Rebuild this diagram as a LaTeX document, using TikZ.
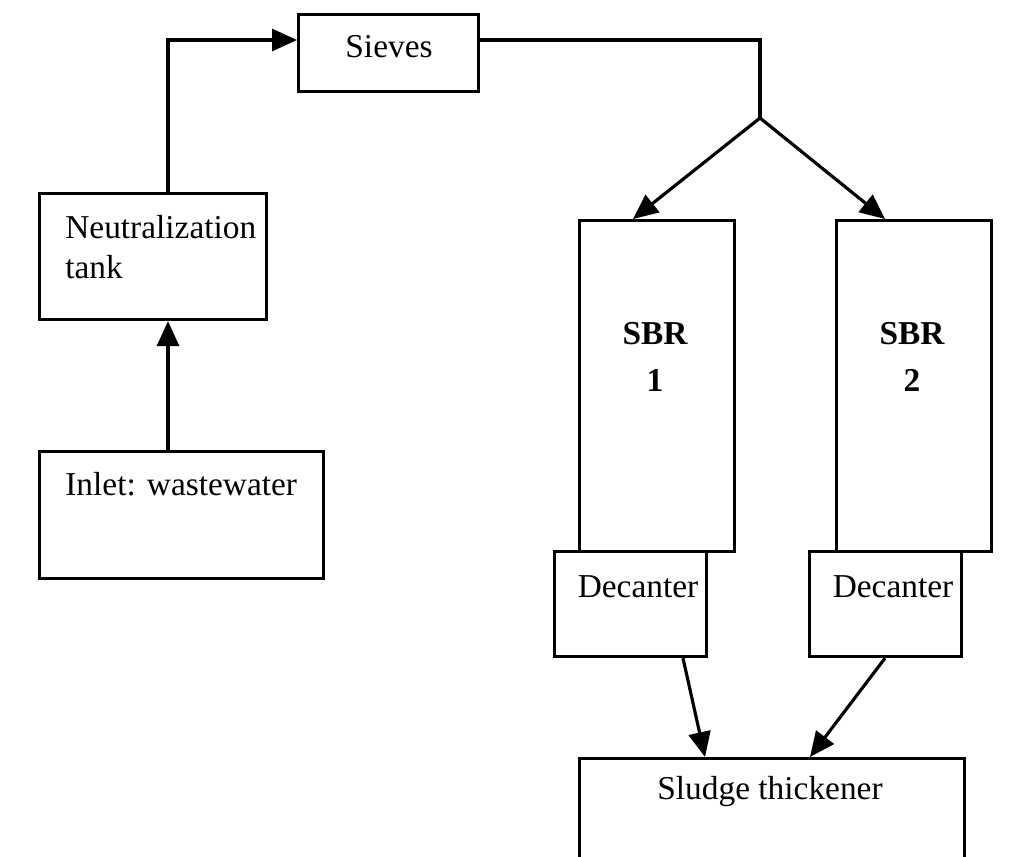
\documentclass[tikz,border=0pt]{standalone}
\usepackage{fontspec}
\setmainfont{Liberation Serif}
\usetikzlibrary{arrows.meta}
\begin{document}
\begin{tikzpicture}[x=0.02cm,y=-0.02cm,
				box/.style = {draw, line width=1.8pt, fill=white, anchor=north west, inner sep=0pt},
				txt/.style = {font=\fontsize{19}{23}\selectfont, inner sep=0pt},
				flow/.style = {line width=1.8pt, -{Triangle[length=5mm,width=4.4mm]}},
			]
			\path[use as bounding box] (0,0) rectangle (1017,856);
			% boxes
			\node[box, minimum width=3.6cm, minimum height=1.54cm] (sieves) at (297,13) {};
			\node[txt] at (389,47) {Sieves};
			\node[box, minimum width=4.54cm, minimum height=2.52cm] (neut) at (38,192) {};
			\node[txt, anchor=west, align=left] at (65,247) {Neutralization\\tank};
			\node[box, minimum width=5.68cm, minimum height=2.54cm] (inlet) at (38,450) {};
			\node[txt, anchor=west] at (65,484) {Inlet: wastewater};
			\node[box, minimum width=3.1cm, minimum height=6.62cm] (sbra) at (578,219) {};
			\node[txt, font=\fontsize{19}{27}\selectfont\bfseries, align=center] at (655,357) {SBR\\1};
			\node[box, minimum width=3.1cm, minimum height=6.62cm] (sbrb) at (835,219) {};
			\node[txt, font=\fontsize{19}{27}\selectfont\bfseries, align=center] at (912,357) {SBR\\2};
			\node[box, minimum width=3.04cm, minimum height=2.1cm] (deca) at (553,550) {};
			\node[txt] at (638,587) {Decanter};
			\node[box, minimum width=3.04cm, minimum height=2.1cm] (decb) at (808,550) {};
			\node[txt] at (893,587) {Decanter};
			\node[box, minimum width=7.7cm, minimum height=2.1cm] (sludge) at (578,757) {};
			\node[txt] at (770,792) {Sludge thickener};
			% connectors
			\coordinate (split) at (760,118);
			\draw[flow] (inlet.north -| 168,0) -- (neut.south -| 168,0);
			\draw[flow] (neut.north -| 168,0) |- (sieves.west |- 0,40);
			\draw[line width=1.8pt] (sieves.east |- 0,40) -| (split);
			\draw[flow] (split) -- (sbra.north -| 633,0);
			\draw[flow] (split) -- (sbrb.north -| 885,0);
			\draw[flow] (deca.south -| 683,0) -- (sludge.north -| 705,0);
			\draw[flow] (decb.south -| 885,0) -- (sludge.north -| 810,0);
		\end{tikzpicture}
\end{document}
